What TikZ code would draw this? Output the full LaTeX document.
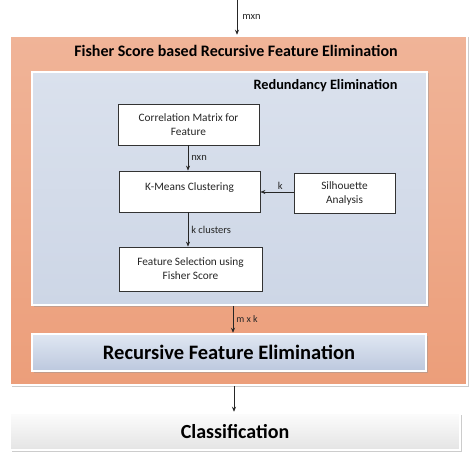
\documentclass[tikz,border=0pt]{standalone}
\usepackage{fontspec}
\setmainfont{Carlito}
\usetikzlibrary{arrows.meta,shadows}
\definecolor{orTop}{RGB}{240,180,152}
\definecolor{orBot}{RGB}{236,158,122}
\definecolor{blTop}{RGB}{218,225,237}
\definecolor{blBot}{RGB}{205,214,230}
\definecolor{rfTop}{RGB}{224,231,242}
\definecolor{rfBot}{RGB}{188,200,222}
\definecolor{clTop}{RGB}{252,252,252}
\definecolor{clBot}{RGB}{228,228,228}
\tikzset{
  x=1pt, y=-1pt,
  panel/.style={draw=white, line width=2.5pt, inner sep=0pt,
    drop shadow={shadow xshift=1.5pt, shadow yshift=-1.5pt, fill=black!40, opacity=0.5}},
  procbox/.style={draw=black!80, line width=0.8pt, fill=white, inner sep=2pt,
    align=center, font=\fontsize{11.3}{14}\selectfont, text=black!85},
  arr/.style={-{Stealth[length=5pt,width=4pt]}, line width=0.6pt, black!85},
  lbl/.style={font=\fontsize{10.5}{12}\selectfont, inner sep=1pt, text=black!85}
}
\begin{document}
\begin{tikzpicture}
\useasboundingbox (0,0) rectangle (474,460);
% outer orange panel
\node[panel, top color=orTop, bottom color=orBot, minimum width=457pt, minimum height=349pt] (outer) at (238.5,210.5) {};
\node[font=\bfseries\fontsize{16}{18}\selectfont] (title) at (236,51) {Fisher Score based Recursive Feature Elimination};
% redundancy panel
\node[panel, top color=blTop, bottom color=blBot, minimum width=395pt, minimum height=233pt] (blue) at (229.5,188.5) {};
\node[font=\bfseries\fontsize{14.3}{16}\selectfont, anchor=east] (rtitle) at (401,86) {Redundancy Elimination};
% process boxes
\node[procbox, minimum width=141pt, minimum height=41pt] (corr) at (188.5,124.5) {Correlation Matrix for\\Feature};
\node[procbox, minimum width=141pt, minimum height=41pt] (km) at (189.5,191.5) {};
\node[font=\fontsize{11.3}{14}\selectfont, text=black!85] (kmt) at (km.center |- 0,187.5) {K-Means Clustering};
\node[procbox, minimum width=101pt, minimum height=40pt] (sil) at (344.5,193) {Silhouette\\Analysis};
\node[procbox, minimum width=143pt, minimum height=44pt] (fs) at (190.5,269) {Feature Selection using\\Fisher Score};
% RFE
\node[panel, top color=rfTop, bottom color=rfBot, minimum width=394pt, minimum height=37pt,
  font=\bfseries\fontsize{20.5}{22}\selectfont] (rfe) at (229,352.5) {Recursive Feature Elimination};
% Classification
\node[panel, top color=clTop, bottom color=clBot, minimum width=450pt, minimum height=37pt,
  font=\bfseries\fontsize{20}{22}\selectfont] (cls) at (235,431.5) {Classification};
% connectors
\coordinate (in) at (237,0);
\draw[arr] (in) -- (in |- outer.north) node[lbl, midway, right=4pt] {mxn};
\draw[arr] (corr.south -| 188,0) -- (188,0 |- km.north) node[lbl, midway, right=2pt] {nxn};
\draw[arr] (sil.west |- 0,192) -- (km.east |- 0,192) node[lbl, pos=0.4, above=1pt] {k};
\draw[arr] (km.south -| 188,0) -- (188,0 |- fs.north) node[lbl, midway, right=2pt] {k clusters};
\coordinate (mk) at (233,0);
\draw[arr] (mk |- blue.south) -- (mk |- rfe.north) node[lbl, midway, right=2pt, font=\fontsize{10}{11}\selectfont] {m x k};
\coordinate (cl) at (234,0);
\draw[arr] (cl |- outer.south) -- (cl |- cls.north);
\end{tikzpicture}
\end{document}
